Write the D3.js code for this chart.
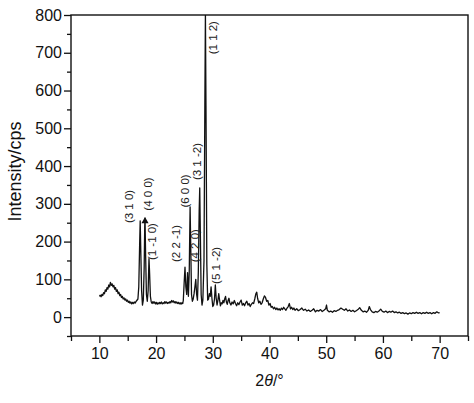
<!DOCTYPE html>
<html>
<head>
<meta charset="utf-8">
<script src="https://cdn.jsdelivr.net/npm/d3@7"></script>
<style>
  body { margin: 0; background: #fff; }
  svg { display: block; }
</style>
</head>
<body>
<script>
const width = 474
const height = 403
const margin = {top: 15, right: 6, bottom: 67, left: 71}

// tick values
const xMajor = [10, 20, 30, 40, 50, 60, 70]
const xMinor = [5, 15, 25, 35, 45, 55, 65, 75]
const yMajor = [0, 100, 200, 300, 400, 500, 600, 700, 800]
const yMinor = [-50, 50, 150, 250, 350, 450, 550, 650, 750]

// XRD pattern: [2theta, intensity]
const pattern = [
  [10.0, 55], [10.15, 58], [10.3, 54], [10.45, 60], [10.6, 57], [10.75, 65], [10.9, 62], [11.05, 72],
  [11.2, 68], [11.35, 78], [11.5, 74], [11.65, 85], [11.8, 80], [11.95, 92], [12.1, 84], [12.25, 88],
  [12.4, 80], [12.55, 84], [12.7, 74], [12.85, 78], [13.0, 68], [13.15, 72], [13.3, 62], [13.45, 66],
  [13.6, 57], [13.75, 60], [13.9, 52], [14.05, 55], [14.2, 48], [14.35, 51], [14.5, 45], [14.65, 48],
  [14.8, 42], [14.95, 45], [15.1, 39], [15.25, 42], [15.4, 37], [15.55, 40], [15.7, 35], [15.85, 39],
  [16.0, 36], [16.15, 40], [16.3, 37], [16.45, 41], [16.6, 44], [16.8, 48],
  [16.95, 80], [17.1, 190], [17.2, 255], [17.3, 180], [17.45, 70],
  [17.6, 32], [17.75, 45], [17.9, 130], [18.0, 240], [18.05, 262], [18.15, 170], [18.3, 60], [18.45, 42],
  [18.6, 70], [18.75, 155], [18.85, 120], [19.0, 55], [19.15, 40], [19.3, 36], [19.45, 41], [19.6, 37],
  [19.75, 40], [19.9, 35], [20.05, 39], [20.2, 34], [20.35, 38], [20.5, 35], [20.65, 39], [20.8, 36],
  [20.95, 40], [21.1, 35], [21.25, 38], [21.4, 36], [21.55, 41], [21.7, 37], [21.85, 40], [22.0, 36],
  [22.15, 39], [22.3, 37], [22.45, 41], [22.6, 38], [22.75, 44], [22.9, 40], [23.05, 43], [23.2, 38],
  [23.35, 41], [23.5, 37], [23.65, 40], [23.8, 36], [23.95, 39], [24.1, 35], [24.25, 38], [24.4, 34],
  [24.55, 38], [24.7, 36],
  [24.8, 44], [24.95, 90], [25.1, 132], [25.25, 80], [25.4, 60], [25.55, 118], [25.7, 55], [25.85, 120],
  [26.0, 292], [26.1, 200], [26.25, 60], [26.4, 42], [26.55, 48], [26.7, 62], [26.85, 80], [27.0, 100],
  [27.15, 60], [27.3, 45], [27.45, 120], [27.6, 280], [27.7, 342], [27.8, 230], [27.95, 60], [28.1, 32],
  [28.25, 45], [28.45, 150], [28.6, 560], [28.7, 805], [28.8, 560], [28.95, 140], [29.1, 45], [29.25, 48],
  [29.4, 62], [29.55, 55], [29.7, 80], [29.85, 50], [30.0, 28], [30.15, 32], [30.3, 48], [30.45, 85],
  [30.6, 50], [30.75, 32], [30.9, 44], [31.05, 62], [31.2, 45], [31.35, 30], [31.5, 38], [31.65, 35],
  [31.8, 44], [31.95, 38], [32.1, 48], [32.25, 55], [32.4, 40], [32.55, 34], [32.7, 44], [32.85, 50],
  [33.0, 38], [33.2, 32], [33.4, 40], [33.6, 35], [33.8, 44], [34.0, 36], [34.2, 30], [34.4, 38],
  [34.6, 33], [34.8, 40], [35.0, 45], [35.2, 32], [35.4, 36], [35.6, 30], [35.8, 38], [36.0, 42],
  [36.2, 32], [36.4, 36], [36.6, 28], [36.8, 34], [37.0, 38], [37.2, 36], [37.4, 48], [37.6, 62],
  [37.75, 66], [37.9, 50], [38.1, 38], [38.3, 42], [38.5, 34], [38.7, 38], [38.9, 48], [39.1, 56],
  [39.3, 52], [39.5, 42], [39.7, 44], [39.9, 32], [40.1, 36], [40.3, 26], [40.5, 28], [40.7, 22],
  [40.9, 26], [41.1, 20], [41.3, 24], [41.5, 19], [41.7, 22], [41.9, 18], [42.1, 24], [42.3, 20],
  [42.5, 26], [42.7, 22], [42.9, 18], [43.1, 24], [43.3, 28], [43.5, 36], [43.7, 22], [43.9, 26],
  [44.1, 20], [44.3, 24], [44.5, 18], [44.8, 22], [45.1, 17], [45.4, 20], [45.7, 24], [46.0, 18],
  [46.3, 21], [46.6, 16], [46.9, 19], [47.2, 15], [47.5, 18], [47.8, 22], [48.1, 14], [48.4, 18],
  [48.7, 16], [49.0, 20], [49.3, 15], [49.6, 18], [49.9, 22], [50.05, 32], [50.2, 18], [50.5, 14],
  [50.8, 16], [51.1, 13], [51.4, 17], [51.7, 15], [52.0, 18], [52.3, 20], [52.6, 24], [52.9, 21],
  [53.2, 18], [53.5, 22], [53.8, 16], [54.1, 19], [54.4, 15], [54.7, 18], [55.0, 14], [55.3, 17],
  [55.6, 20], [55.9, 25], [56.2, 18], [56.5, 14], [56.8, 16], [57.1, 13], [57.4, 18], [57.6, 28],
  [57.8, 20], [58.1, 14], [58.4, 12], [58.7, 15], [59.0, 13], [59.3, 16], [59.6, 21], [59.9, 15],
  [60.2, 13], [60.5, 16], [60.8, 12], [61.1, 15], [61.4, 13], [61.7, 16], [62.0, 12], [62.3, 14],
  [62.6, 11], [62.9, 13], [63.2, 10], [63.5, 12], [63.8, 9], [64.1, 11], [64.4, 8], [64.7, 11],
  [65.0, 9], [65.3, 12], [65.6, 10], [65.9, 13], [66.2, 10], [66.5, 12], [66.8, 9], [67.1, 12],
  [67.4, 10], [67.7, 13], [68.0, 10], [68.3, 12], [68.6, 9], [68.9, 12], [69.2, 10], [69.5, 14],
  [69.8, 11], [70.0, 12]
]

// Miller index labels, placed at [2theta, intensity] of the label centre
const peakLabels = [
  {text: "(3 1 0)", t: 15.25, v: 293},
  {text: "(4 0 0)", t: 18.5, v: 326},
  {text: "(1 -1 0)", t: 19.3, v: 200},
  {text: "(2 2 -1)", t: 23.5, v: 195},
  {text: "(6 0 0)", t: 25.1, v: 334},
  {text: "(4 2 0)", t: 26.85, v: 189},
  {text: "(3 1 -2)", t: 27.2, v: 412},
  {text: "(1 1 2)", t: 30.0, v: 740},
  {text: "(5 1 -2)", t: 30.55, v: 137}
]

// the (4 0 0) peak carries a small arrow head
const arrowPeak = [18.05, 262]

const x = d3.scaleLinear().domain([5, 75]).range([margin.left, width - margin.right])
const y = d3.scaleLinear().domain([-50, 800]).range([height - margin.bottom, margin.top])

const svg = d3.select("body").append("svg")
  .attr("width", width).attr("height", height)
  .style("font-family", "'Liberation Sans', Arial, sans-serif")

svg.append("clipPath").attr("id", "plot")
  .append("rect")
  .attr("x", margin.left).attr("y", margin.top)
  .attr("width", width - margin.left - margin.right)
  .attr("height", height - margin.top - margin.bottom)

// data line
svg.append("path")
  .datum(pattern)
  .attr("clip-path", "url(#plot)")
  .attr("fill", "none")
  .attr("stroke", "#111")
  .attr("stroke-width", 1.3)
  .attr("stroke-linejoin", "round")
  .attr("d", d3.line().x((d) => x(d[0])).y((d) => y(d[1])))

svg.append("path")
  .attr("transform", `translate(${x(arrowPeak[0])},${y(arrowPeak[1]) + 3})`)
  .attr("d", d3.symbol(d3.symbolTriangle, 22)())
  .attr("fill", "#111")

// labels
svg.append("g")
  .selectAll("text")
  .data(peakLabels)
  .join("text")
  .attr("transform", (d) => `translate(${x(d.t)},${y(d.v)}) rotate(-90)`)
  .attr("text-anchor", "middle")
  .attr("dy", "0.35em")
  .attr("font-size", 11.5)
  .attr("fill", "#222")
  .text((d) => d.text)

// frame
svg.append("rect")
  .attr("x", margin.left).attr("y", margin.top)
  .attr("width", width - margin.left - margin.right)
  .attr("height", height - margin.top - margin.bottom)
  .attr("fill", "none").attr("stroke", "#111").attr("stroke-width", 1.4)

// axes
svg.append("g")
  .attr("transform", `translate(0,${height - margin.bottom})`)
  .call(d3.axisBottom(x).tickValues(xMajor).tickSize(7).tickPadding(5).tickFormat(d3.format("d")))
svg.append("g")
  .attr("transform", `translate(0,${height - margin.bottom})`)
  .call(d3.axisBottom(x).tickValues(xMinor).tickSize(5).tickFormat(""))

svg.append("g")
  .attr("transform", `translate(${margin.left},0)`)
  .call(d3.axisLeft(y).tickValues(yMajor).tickSize(7).tickPadding(2).tickFormat(d3.format("d")))
svg.append("g")
  .attr("transform", `translate(${margin.left},0)`)
  .call(d3.axisLeft(y).tickValues(yMinor).tickSize(4).tickFormat(""))

svg.selectAll(".domain").remove()
svg.selectAll(".tick line").attr("stroke", "#111").attr("stroke-width", 1.3)
svg.selectAll(".tick text")
  .attr("font-size", 16)
  .attr("font-family", "'Liberation Sans', Arial, sans-serif")
  .attr("fill", "#111")

// axis titles
svg.append("text")
  .attr("transform", `translate(21,${(margin.top + height - margin.bottom) / 2 - 4}) rotate(-90)`)
  .attr("text-anchor", "middle")
  .attr("font-size", 18)
  .attr("fill", "#111")
  .text("Intensity/cps")

const xt = svg.append("text")
  .attr("x", (margin.left + width - margin.right) / 2)
  .attr("y", 386)
  .attr("text-anchor", "middle")
  .attr("font-size", 16)
  .attr("fill", "#111")
xt.append("tspan").text("2")
xt.append("tspan").attr("font-style", "italic").text("θ")
xt.append("tspan").text("/°")
</script>
</body>
</html>
